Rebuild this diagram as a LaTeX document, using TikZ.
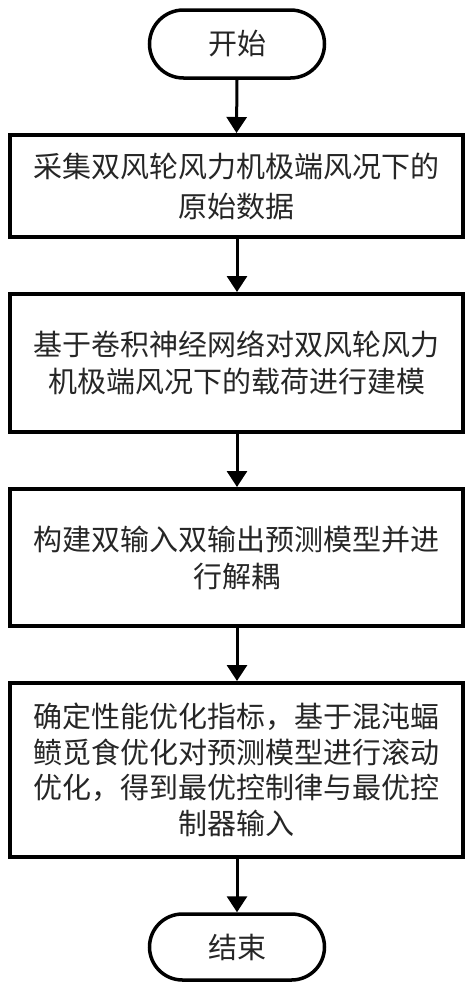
\documentclass[tikz,border=0pt]{standalone}
\usepackage{fontspec}
\setmainfont{Noto Sans CJK SC}
\usetikzlibrary{arrows.meta,shapes.misc}
\begin{document}
\begin{tikzpicture}[x=1pt,y=-1pt,
  stepbox/.style={draw=black, line width=4pt, minimum width=453pt, inner sep=0pt, align=center,
    text=black!85, font=\fontsize{29}{37}\selectfont},
  termbox/.style={draw=black, line width=3.5pt, rounded rectangle, minimum width=175pt, inner sep=0pt,
    text=black!85, font=\fontsize{29}{37}\selectfont},
  conn/.style={line width=3pt, -{Triangle[width=20pt,length=16pt]}}]
\useasboundingbox[fill=white] (0,0) rectangle (474,993);
\node[termbox, minimum height=68pt] (start) at (237,44) {开始};
\node[stepbox, minimum height=102pt, font=\fontsize{29}{40}\selectfont] (s1) at (236.5,186) {采集双风轮风力机极端风况下的\\原始数据};
\node[stepbox, minimum height=138pt] (s2) at (236.5,363) {基于卷积神经网络对双风轮风力\\机极端风况下的载荷进行建模};
\node[stepbox, minimum height=137pt] (s3) at (236.5,557.5) {构建双输入双输出预测模型并进\\行解耦};
\node[stepbox, minimum height=174pt, font=\fontsize{29}{35.5}\selectfont] (s4) at (236.5,770) {确定性能优化指标，基于混沌蝠\\鲼觅食优化对预测模型进行滚动\\优化，得到最优控制律与最优控\\制器输入};
\node[termbox, minimum height=66pt] (end) at (237,947) {结束};
\draw[conn] (start.south) -- (s1.north);
\draw[conn] (s1.south -| start.south) -- (s2.north -| start.south);
\draw[conn] (s2.south -| start.south) -- (s3.north -| start.south);
\draw[conn] (s3.south -| start.south) -- (s4.north -| start.south);
\draw[conn] (s4.south -| start.south) -- (end.north);
\end{tikzpicture}
\end{document}
